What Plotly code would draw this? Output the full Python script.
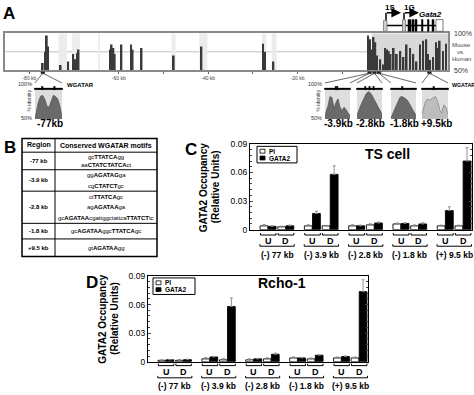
import plotly.graph_objects as go

W, H = 474, 395
FONT = "Liberation Sans, Arial, sans-serif"

def px(x):
    return x / W

def py(y):
    return 1 - y / H

# ---------------- DATA ----------------
# Panel A: mouse vs human conservation track (kb from Gata2 1S promoter, % identity)
track_kb = [-77.0, -76.5, -76.1, -75.8, -73.0, -71.3, -70.2, -69.8, -69.3, -69.0,
            -62.0, -61.6, -61.2, -60.9, -59.4, -57.3, -56.9, -54.9, -47.7, -41.5,
            -27.7, -27.3, -25.4,
            -4.2, -3.8, -3.4, -3.0, -2.6, -2.2, -1.5, -0.8, -0.4, 0.0, 0.4, 0.8,
            1.5, 2.2, 3.0, 3.7, 4.4, 5.2, 5.9, 6.6, 7.4, 8.1, 8.8, 9.2, 9.6, 10.3,
            11.0, 11.4, 11.8, 12.5, 13.2]
track_pct = [60, 75, 97, 82, 57, 62, 72, 65, 73, 78,
             78, 85, 80, 72, 85, 85, 78, 80, 70, 82,
             86, 75, 62,
             97, 92, 78, 95, 88, 70, 65, 58, 80, 78, 76, 72,
             80, 72, 76, 68, 85, 80, 72, 62, 85, 90, 92, 72, 64, 68,
             88, 80, 90, 76, 86]
band_start_kb = [-73.5, -70.5, -64.6, -48.2, -42.0, -28.0, -25.8]
band_end_kb = [-71.6, -68.7, -64.2, -47.3, -40.2, -27.0, -24.7]
gene_region_kb = [-3.4, 13.65]
track_ticks_kb = [-80, -60, -40, -20]
track_ticklabels = ["-80 kb", "-60 kb", "-40 kb", "-20 kb"]

# Panel A insets: % identity profiles across each conserved element
inset_names = ["-77kb", "-3.9kb", "-2.8kb", "-1.8kb", "+9.5kb"]
inset_site_kb = [-77.0, -3.9, -2.8, -1.8, 9.5]
inset_x = [0, 0.04, 0.12, 0.2, 0.28, 0.36, 0.44, 0.52, 0.6, 0.68, 0.76, 0.84, 0.92, 0.97, 1.0]
inset_m77 = [50, 62, 78, 88, 90, 84, 72, 70, 80, 90, 88, 84, 72, 58, 54]
inset_m39 = [52, 62, 72, 88, 86, 68, 78, 84, 70, 64, 70, 66, 60, 58, 56]
inset_m28 = [56, 62, 70, 78, 85, 92, 96, 95, 90, 84, 78, 72, 66, 60, 58]
inset_m18 = [52, 56, 64, 74, 82, 87, 88, 86, 84, 80, 74, 68, 62, 58, 56]
inset_p95 = [58, 66, 78, 84, 82, 84, 86, 88, 80, 66, 60, 74, 70, 60, 58]
inset_motifs = [[0.27, 0.72], [0.43, 0.49], [0.33, 0.5, 0.66], [0.45], [0.45]]

# Panel B table
table_regions = ["-77 kb", "-3.9 kb", "-2.8 kb", "-1.8 kb", "+9.5 kb"]
table_motifs = [
    ["gc<b>TTATCA</b>gg", "aa<b>CTATCTATCA</b>ct"],
    ["gg<b>AGATAG</b>ga", "cg<b>CTATCT</b>gc"],
    ["ct<b>TTATCA</b>gc", "ag<b>AGATAA</b>ga", "gc<b>AGATAA</b>cgattggctattca<b>TTATCT</b>tc"],
    ["gc<b>AGATAA</b>ggc<b>TTATCA</b>gc"],
    ["gt<b>AGATAA</b>gg"],
]

# Panels C/D: ChIP
regions = ["(-) 77 kb", "(-) 3.9 kb", "(-) 2.8 kb", "(-) 1.8 kb", "(+) 9.5 kb"]
subgroups = ["U", "D"]
ts_pi = [0.004, 0.003, 0.004, 0.004, 0.004, 0.005, 0.006, 0.004, 0.004, 0.004]
ts_pi_err = [0.0015, 0.0008, 0.0012, 0.0005, 0.0012, 0.0012, 0.001, 0.001, 0.0008, 0.0008]
ts_gata = [0.0035, 0.004, 0.017, 0.058, 0.004, 0.007, 0.0065, 0.006, 0.020, 0.072]
ts_gata_err = [0.0005, 0.0008, 0.0025, 0.009, 0.0008, 0.001, 0.0008, 0.0012, 0.004, 0.014]
rc_pi = [0.0015, 0.0015, 0.003, 0.002, 0.002, 0.003, 0.004, 0.003, 0.004, 0.004]
rc_pi_err = [0.0005, 0.0008, 0.0015, 0.0015, 0.001, 0.0012, 0.001, 0.001, 0.001, 0.001]
rc_gata = [0.002, 0.0022, 0.005, 0.058, 0.003, 0.0078, 0.004, 0.0068, 0.0055, 0.0735]
rc_gata_err = [0.0004, 0.0004, 0.0005, 0.009, 0.0005, 0.0012, 0.0005, 0.0006, 0.0006, 0.0125]
yticks = [0, 0.03, 0.06, 0.09]
yticklabels = ["0", "0.03", "0.06", "0.09"]

# ---------------- FIGURE ----------------
fig = go.Figure()
shapes = []
anns = []

def ann(x, y, text, size=8, color="black", xanchor="center", yanchor="middle",
        textangle=0, xref="paper", yref="paper", family=FONT):
    anns.append(dict(x=x, y=y, text=text, showarrow=False, xref=xref, yref=yref,
                     xanchor=xanchor, yanchor=yanchor, textangle=textangle,
                     font=dict(size=size, color=color, family=family)))

def line(x0, y0, x1, y1, color="black", width=1, xref="paper", yref="paper", layer="above"):
    shapes.append(dict(type="line", x0=x0, y0=y0, x1=x1, y1=y1, xref=xref, yref=yref,
                       line=dict(color=color, width=width), layer=layer))

def rect(x0, y0, x1, y1, fill=None, lc="black", lw=1, xref="paper", yref="paper", layer="above"):
    shapes.append(dict(type="rect", x0=x0, y0=y0, x1=x1, y1=y1, xref=xref, yref=yref,
                       fillcolor=fill if fill else "rgba(0,0,0,0)",
                       line=dict(color=lc, width=lw), layer=layer))

# ---- Panel A main track ----
TX0, TX1, TY0, TY1 = 5, 448, 29, 67
KB0, KB1 = -85.46, 13.65
def kb2px(kb):
    return TX0 + (kb - KB0) / (KB1 - KB0) * (TX1 - TX0)

fig.add_trace(go.Bar(x=track_kb, y=[p - 50 for p in track_pct], base=50, width=0.38,
                     marker=dict(color="#3a3a3a", line=dict(width=0)),
                     xaxis="x", yaxis="y", hoverinfo="skip"))
for b0, b1 in zip(band_start_kb, band_end_kb):
    rect(b0, 50, b1, 100, fill="#ececec", lc="rgba(0,0,0,0)", lw=0, xref="x", yref="y", layer="below")
rect(gene_region_kb[0], 50, gene_region_kb[1], 100, fill="#d9d9d9", lc="rgba(0,0,0,0)", lw=0,
     xref="x", yref="y", layer="below")
line(0, 75, 1, 75, color="#b0b0b0", width=0.8, xref="x domain", yref="y", layer="below")

layout_axes = {}
layout_axes["xaxis"] = dict(domain=[px(TX0), px(TX1)], range=[KB0, KB1], anchor="y",
                            showline=True, mirror=True, linecolor="#8a8a8a", linewidth=1.5,
                            showgrid=False, zeroline=False, tickvals=track_ticks_kb,
                            ticktext=track_ticklabels, ticks="outside", ticklen=2,
                            tickcolor="#666", tickfont=dict(size=5, color="#444", family=FONT),
                            minor=dict(tickvals=[-50, -30, -10], ticks="outside", ticklen=2,
                                       tickcolor="#666"))
layout_axes["yaxis"] = dict(domain=[py(TY1), py(TY0)], range=[50, 100], anchor="x",
                            showline=True, mirror=True, linecolor="#8a8a8a", linewidth=1.5,
                            showgrid=False, zeroline=False, showticklabels=False, ticks="")

ann(px(452), py(29), "100%", size=7, color="#333", xanchor="left")
ann(px(452), py(67), "50%", size=7, color="#333", xanchor="left")
ann(px(461), py(41), "Mouse", size=6, color="#444")
ann(px(461), py(48), "vs.", size=6, color="#444")
ann(px(461), py(55), "Human", size=6, color="#444")
ann(px(1), py(9), "<b>A</b>", size=17, xanchor="left")

# gene structure
line(px(386), py(24), px(386), py(8), width=1.5)
line(px(404), py(22), px(404), py(8), width=1.5)
for xs, xe in [(385.5, 401), (403.5, 419)]:
    anns.append(dict(x=px(xe), y=py(8), ax=-(xe - xs), ay=0, axref="pixel", ayref="pixel",
                     xref="paper", yref="paper", text="", showarrow=True, arrowhead=2,
                     arrowsize=1.2, arrowwidth=1.6, arrowcolor="black"))
ann(px(390), py(3), "<b>1S</b>", size=8)
ann(px(409), py(3), "<b>1G</b>", size=8)
ann(px(430), py(10), "<b><i>Gata2</i></b>", size=8)
line(px(386), py(21), px(436), py(21), width=1.5)
rect(px(383.5), py(27), px(387), py(16), fill="#cfcfcf", lc="#777", lw=0.8)
rect(px(402.5), py(27), px(405.5), py(15), fill="#cfcfcf", lc="#777", lw=0.8)
for ex0, ex1 in [(408, 411), (412, 414), (415, 417), (421.5, 423), (427.5, 429), (432, 434)]:
    rect(px(ex0), py(27), px(ex1), py(15), fill="black", lc="black", lw=0.5)
rect(px(436), py(27), px(443), py(15), fill="white", lc="#555", lw=0.8)

# ---- Panel A insets ----
inset_px = [(35, 62), (325, 350), (357, 382), (391, 416), (422, 448)]
inset_data = [inset_m77, inset_m39, inset_m28, inset_m18, inset_p95]
inset_fill = ["#6a6a6a", "#6a6a6a", "#6a6a6a", "#6a6a6a", "#bdbdbd"]
inset_line = ["#555", "#555", "#555", "#555", "#888"]
IY0, IY1 = 83, 117
for i, ((x0, x1), ys) in enumerate(zip(inset_px, inset_data)):
    k = i + 2
    xa, ya = "x%d" % k, "y%d" % k
    fig.add_trace(go.Scatter(x=inset_x, y=ys, mode="lines", fill="tozeroy",
                             fillcolor=inset_fill[i], line=dict(color=inset_line[i], width=0.8),
                             xaxis=xa, yaxis=ya, hoverinfo="skip"))
    layout_axes["xaxis%d" % k] = dict(domain=[px(x0), px(x1)], range=[0, 1], anchor=ya,
                                      visible=False)
    layout_axes["yaxis%d" % k] = dict(domain=[py(IY1), py(IY0)], range=[50, 106], anchor=xa,
                                      visible=False)
    rect(0, 50, 1, 99.5, fill="#dedede", lc="rgba(0,0,0,0)", lw=0,
         xref=xa + " domain", yref=ya, layer="below")
    line(-0.03, 101, 1.03, 101, width=2, xref=xa + " domain", yref=ya)
    for m in inset_motifs[i]:
        rect(m - 0.025, 99.5, m + 0.025, 105.5, fill="black", lc="black", lw=0.5,
             xref=xa + " domain", yref=ya)
    # marker on track axis and connecting lines
    mx = kb2px(inset_site_kb[i])
    rect(px(mx - 1.8), py(70.5), px(mx + 1.8), py(68.5), fill="#222", lc="#222", lw=0.5)
    line(px(mx), py(70), px(x0), py(80), color="#444", width=0.8)
    line(px(mx), py(70), px(x1), py(80), color="#444", width=0.8)
    ann(px((x0 + x1) / 2 + 1), py(122), "<b>%s</b>" % inset_names[i], size=10)

for (lx, gx) in [(34, 29), (324, 318)]:
    ann(px(lx), py(81), "100%", size=5.5, color="#333", xanchor="right")
    ann(px(lx), py(116), "50%", size=5.5, color="#333", xanchor="right")
    ann(px(gx), py(98), "% identity", size=5, color="#333", textangle=-90)
ann(px(65), py(82), "<b>WGATAR</b>", size=6, xanchor="left")
ann(px(450), py(82), "<b>WGATAR</b>", size=5.3, xanchor="left")

# ---- Panel B table ----
ann(px(2), py(146), "<b>B</b>", size=17, xanchor="left")
BX0, BXM, BX1 = 22, 55, 157
row_edges = [137, 151, 169, 191, 224, 240, 258]
rect(px(BX0), py(row_edges[-1]), px(BX1), py(row_edges[0]), lw=1.5)
line(px(BXM), py(row_edges[0]), px(BXM), py(row_edges[-1]), width=1)
for ye in row_edges[1:-1]:
    line(px(BX0), py(ye), px(BX1), py(ye), width=1)
ann(px((BX0 + BXM) / 2), py(144), "<b>Region</b>", size=7)
ann(px((BXM + BX1) / 2), py(144), "<b>Conserved WGATAR motifs</b>", size=7)
for r, (reg, motifs) in enumerate(zip(table_regions, table_motifs)):
    top, bot = row_edges[r + 1], row_edges[r + 2]
    ann(px((BX0 + BXM) / 2), py((top + bot) / 2), "<b>%s</b>" % reg, size=6)
    n = len(motifs)
    step = (bot - top) / (n + 0.0)
    for j, m in enumerate(motifs):
        yc = top + step * (j + 0.5)
        ann(px((BXM + BX1) / 2), py(yc), m, size=6)

# ---- Panels C and D ----
xpos = [r * 2.5 + s for r in range(len(regions)) for s in range(len(subgroups))]
sublabels = [subgroups[s] for r in range(len(regions)) for s in range(len(subgroups))]
centers = [r * 2.5 + 0.5 for r in range(len(regions))]

panels = [
    dict(k=7, pi=ts_pi, pie=ts_pi_err, ga=ts_gata, gae=ts_gata_err, x0=250, x1=472, top=142.5,
         bot=230.5, title="TS cell", tx=387, ty=153, letter="C", lx=183, ly=148,
         ylab_x=(203, 215), ylab_y=187, leg=(257, 145, 297, 162), sb=236, ut=242, bb=247.5,
         gl=257),
    dict(k=8, pi=rc_pi, pie=rc_pi_err, ga=rc_gata, gae=rc_gata_err, x0=148, x1=368, top=278,
         bot=366, title="Rcho-1", tx=282, ty=285, letter="D", lx=84, ly=285,
         ylab_x=(103, 115), ylab_y=322, leg=(153, 280, 195, 297), sb=370, ut=377, bb=382.5,
         gl=390.5),
]
for P in panels:
    k = P["k"]
    xa, ya = "x%d" % k, "y%d" % k
    fig.add_trace(go.Bar(x=xpos, y=P["pi"], width=0.44, offset=-0.46,
                         marker=dict(color="white", line=dict(color="black", width=0.9)),
                         error_y=dict(type="data", array=P["pie"], arrayminus=[0] * len(xpos),
                                      symmetric=False, color="#888", thickness=0.9, width=1.5),
                         xaxis=xa, yaxis=ya, hoverinfo="skip"))
    fig.add_trace(go.Bar(x=xpos, y=P["ga"], width=0.44, offset=0.0,
                         marker=dict(color="black", line=dict(color="black", width=0.9)),
                         error_y=dict(type="data", array=P["gae"], arrayminus=[0] * len(xpos),
                                      symmetric=False, color="#888", thickness=0.9, width=1.5),
                         xaxis=xa, yaxis=ya, hoverinfo="skip"))
    layout_axes["xaxis%d" % k] = dict(domain=[px(P["x0"]), px(P["x1"])], range=[-1.03, 11.5],
                                      anchor=ya, showline=True, mirror=True, linecolor="black",
                                      linewidth=1.3, showticklabels=False, ticks="",
                                      showgrid=False, zeroline=False)
    layout_axes["yaxis%d" % k] = dict(domain=[py(P["bot"]), py(P["top"])], range=[0, 0.09],
                                      anchor=xa, showline=True, mirror="allticks",
                                      linecolor="black", linewidth=1.3, showgrid=False,
                                      zeroline=False, tickvals=yticks, ticktext=yticklabels,
                                      ticks="inside", ticklen=3, tickwidth=1,
                                      tickfont=dict(size=8.5, color="black",
                                                    family="Liberation Sans Narrow, " + FONT),
                                      minor=dict(dtick=0.006, ticks="inside", ticklen=1.5,
                                                 tickwidth=0.8))
    # brackets and labels
    for xp, lab in zip(xpos, sublabels):
        shapes.append(dict(type="path", xref=xa, yref="paper",
                           path="M %f,%f L %f,%f L %f,%f L %f,%f" % (
                               xp - 0.44, py(P["sb"] - 2), xp - 0.44, py(P["sb"]),
                               xp + 0.44, py(P["sb"]), xp + 0.44, py(P["sb"] - 2)),
                           line=dict(color="black", width=1)))
        ann(xp, py(P["ut"]), "<b>%s</b>" % lab, size=9, xref=xa)
    for c, reg in zip(centers, regions):
        shapes.append(dict(type="path", xref=xa, yref="paper",
                           path="M %f,%f L %f,%f L %f,%f L %f,%f" % (
                               c - 0.97, py(P["bb"] - 2), c - 0.97, py(P["bb"]),
                               c + 0.97, py(P["bb"]), c + 0.97, py(P["bb"] - 2)),
                           line=dict(color="black", width=1)))
        ann(c, py(P["gl"]), "<b>%s</b>" % reg, size=8.5, xref=xa)
    ann(px(P["tx"]), py(P["ty"]), "<b>%s</b>" % P["title"], size=14)
    ann(px(P["lx"]), py(P["ly"]), "<b>%s</b>" % P["letter"], size=17, xanchor="left")
    ann(px(P["ylab_x"][0]), py(P["ylab_y"]), "<b>GATA2 Occupancy</b>", size=10, textangle=-90)
    ann(px(P["ylab_x"][1]), py(P["ylab_y"]), "<b>(Relative Units)</b>", size=10, textangle=-90)
    # legend box
    l0, t0, l1, b0 = P["leg"]
    rect(px(l0), py(b0), px(l1), py(t0), fill="white", lc="black", lw=1)
    rect(px(l0 + 3), py(t0 + 7), px(l0 + 8), py(t0 + 3), fill="white", lc="black", lw=0.8)
    rect(px(l0 + 3), py(b0 - 3), px(l0 + 8), py(b0 - 7), fill="black", lc="black", lw=0.8)
    ann(px(l0 + 10), py(t0 + 5), "<b>PI</b>", size=6.5, xanchor="left")
    ann(px(l0 + 10), py(b0 - 5), "<b>GATA2</b>", size=6.5, xanchor="left")

fig.update_layout(width=W, height=H, margin=dict(l=0, r=0, t=0, b=0),
                  paper_bgcolor="white", plot_bgcolor="white", showlegend=False,
                  barmode="overlay", shapes=shapes, annotations=anns,
                  font=dict(family=FONT), **layout_axes)

fig.write_html("out.html", config={"displayModeBar": False},
               post_script="document.body.style.margin='0';document.body.style.overflow='hidden';")
